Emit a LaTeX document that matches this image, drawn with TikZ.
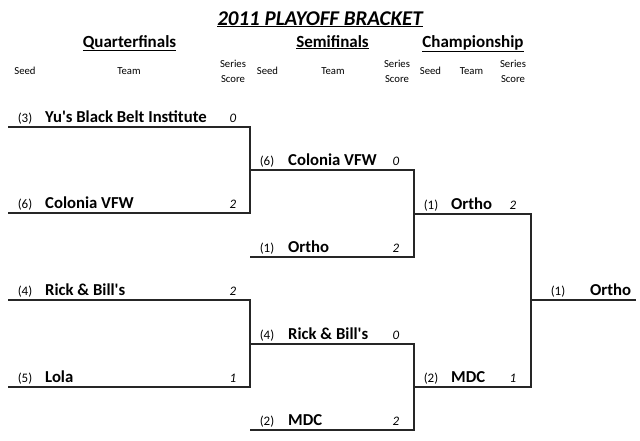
\documentclass[tikz,border=0pt]{standalone}
\usepackage{fontspec}
\setmainfont{Carlito}
\usepackage{tikz}

\begin{document}
\begin{tikzpicture}[x=1pt,y=-1pt]
    % Definición de estilos
    \tikzstyle{linea}=[line width=1.3pt, black!85]
    \tikzstyle{seedtxt}=[anchor=base, inner sep=0pt, font=\fontsize{13}{13}\selectfont]
    \tikzstyle{teamtxt}=[anchor=base west, inner sep=0pt, font=\fontsize{16.7}{17}\selectfont\bfseries]
    \tikzstyle{scoretxt}=[anchor=base, inner sep=0pt, font=\fontsize{13}{13}\selectfont\itshape]
    \tikzstyle{colhead}=[anchor=base, inner sep=0pt, align=center, font=\fontsize{10.7}{15}\selectfont]
    \tikzstyle{roundhead}=[anchor=base, inner sep=0pt, font=\fontsize{17}{17}\selectfont\bfseries]
    \useasboundingbox (0,0) rectangle (640,440);
    % Título
    \node[anchor=base, inner sep=0pt, font=\fontsize{21}{21}\selectfont\bfseries\itshape] (title) at (320,25) {\underline{2011 PLAYOFF BRACKET}};
    % Nombres de las rondas
    \node[roundhead] (hqf) at (129.5,47) {\underline{Quarterfinals}};
    \node[roundhead] (hsf) at (332.5,47) {\underline{Semifinals}};
    \node[roundhead] (hch) at (473,47) {\underline{Championship}};
    % Encabezados de columnas
    \node[colhead] (qfseed) at (25,74) {Seed};
    \node[colhead] (qfteam) at (129,74) {Team};
    \node[colhead] (qfscore) at (233,82) {Series\\Score};
    \node[colhead] (sfseed) at (267.5,74) {Seed};
    \node[colhead] (sfteam) at (333,74) {Team};
    \node[colhead] (sfscore) at (397,82) {Series\\Score};
    \node[colhead] (chseed) at (430.5,74) {Seed};
    \node[colhead] (chteam) at (471.5,74) {Team};
    \node[colhead] (chscore) at (513,82) {Series\\Score};
    % Puntos de las líneas del cuadro
    \coordinate (q1) at (8,127);
    \coordinate (q2) at (8,213);
    \coordinate (q3) at (8,300);
    \coordinate (q4) at (8,387);
    \coordinate (s1) at (250,170);
    \coordinate (s2) at (250,257);
    \coordinate (s3) at (250,344);
    \coordinate (s4) at (250,430);
    \coordinate (c1) at (414,214);
    \coordinate (c2) at (414,387);
    \coordinate (fin) at (531,300);
    \coordinate (finend) at (636,300);
    % Cuartos de final
    \draw[linea] (q1) -| (s1) |- (q2);
    \draw[linea] (q3) -| (s3) |- (q4);
    % Semifinales
    \draw[linea] (s1) -| (c1) |- (s2);
    \draw[linea] (s3) -| (c2) |- (s4);
    % Campeonato y ganador
    \draw[linea] (c1) -| (fin) |- (c2);
    \draw[linea] (fin) -- (finend);
    % Equipos de cuartos
    \node[seedtxt] (q1s) at (25,122) {(3)};
    \node[teamtxt] (q1t) at (45,122) {Yu\textquotesingle s Black Belt Institute};
    \node[scoretxt] (q1r) at (233,122) {0};
    \node[seedtxt] (q2s) at (25,208) {(6)};
    \node[teamtxt] (q2t) at (45,208) {Colonia VFW};
    \node[scoretxt] (q2r) at (233,208) {2};
    \node[seedtxt] (q3s) at (25,295) {(4)};
    \node[teamtxt] (q3t) at (45,295) {Rick \& Bill\textquotesingle s};
    \node[scoretxt] (q3r) at (233,295) {2};
    \node[seedtxt] (q4s) at (25,382) {(5)};
    \node[teamtxt] (q4t) at (45,382) {Lola};
    \node[scoretxt] (q4r) at (233,382) {1};
    % Equipos de semifinales
    \node[seedtxt] (s1s) at (267,165) {(6)};
    \node[teamtxt] (s1t) at (288,165) {Colonia VFW};
    \node[scoretxt] (s1r) at (396,165) {0};
    \node[seedtxt] (s2s) at (267,252) {(1)};
    \node[teamtxt] (s2t) at (288,252) {Ortho};
    \node[scoretxt] (s2r) at (396,252) {2};
    \node[seedtxt] (s3s) at (267,339) {(4)};
    \node[teamtxt] (s3t) at (288,339) {Rick \& Bill\textquotesingle s};
    \node[scoretxt] (s3r) at (396,339) {0};
    \node[seedtxt] (s4s) at (267,425) {(2)};
    \node[teamtxt] (s4t) at (288,425) {MDC};
    \node[scoretxt] (s4r) at (396,425) {2};
    % Final
    \node[seedtxt] (c1s) at (431,209) {(1)};
    \node[teamtxt] (c1t) at (451,209) {Ortho};
    \node[scoretxt] (c1r) at (513,209) {2};
    \node[seedtxt] (c2s) at (431,382) {(2)};
    \node[teamtxt] (c2t) at (451,382) {MDC};
    \node[scoretxt] (c2r) at (513,382) {1};
    % Campeón
    \node[seedtxt] (fs) at (558,295) {(1)};
    \node[teamtxt] (ft) at (590,295) {Ortho};
\end{tikzpicture}
\end{document}
